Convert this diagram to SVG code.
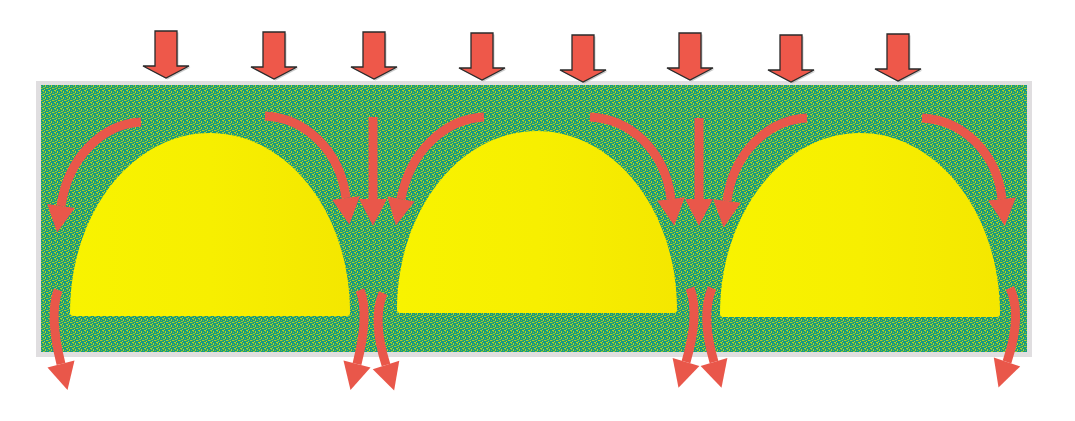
<svg xmlns="http://www.w3.org/2000/svg" width="1075" height="421" viewBox="0 0 1075 421">
<style>
.blk{fill:#ee584a;stroke:#2a2a2a;stroke-width:1.3;stroke-linejoin:miter}
.shd{fill:#8a8a8a;opacity:0.45}
.flow{fill:none;stroke:#e9574a;stroke-width:9;stroke-linecap:butt;marker-end:url(#head)}
.dome{fill:url(#yel)}
</style>
<defs>
<pattern id="tex" width="6" height="6" patternUnits="userSpaceOnUse">
<rect width="6" height="6" fill="#179a80"/>
<rect x="0" y="0" width="2" height="1" fill="#b0d21e"/>
<rect x="1" y="1" width="1" height="1" fill="#8cc232"/>
<rect x="3" y="1" width="1" height="2" fill="#bcd61a"/>
<rect x="1" y="3" width="2" height="1" fill="#9ac82a"/>
<rect x="4" y="4" width="2" height="1" fill="#b0d21e"/>
<rect x="2" y="5" width="1" height="1" fill="#c4da18"/>
<rect x="5" y="2" width="1" height="1" fill="#7cba3c"/>
<rect x="0" y="4" width="1" height="1" fill="#6fb447"/>
</pattern>
<linearGradient id="yel" x1="0" y1="0" x2="1" y2="0">
<stop offset="0" stop-color="#f8f300"/>
<stop offset="0.5" stop-color="#f7ef00"/>
<stop offset="1" stop-color="#f4e700"/>
</linearGradient>
<marker id="head" markerUnits="userSpaceOnUse" markerWidth="30" markerHeight="30" viewBox="0 -14 26 28" refX="0" refY="0" orient="auto">
<path d="M0,-13 L25,0 L0,13 Z" fill="#e9574a"/>
</marker>
<path id="barrow" d="M-11,0 H11 V35 H23 L0,47 L-23,35 H-11 Z"/>
</defs>

<g id="panel">
<rect x="36" y="81" width="996" height="276" fill="#e0dee0"/>
<rect x="41" y="85" width="986" height="267" fill="url(#tex)"/>
</g>

<g id="dome1"><path class="dome" d="M70,313 Q70,316 73,316 L347,316 Q350,316 350,313 C350,212 287,133 210,133 C133,133 70,212 70,313 Z"/></g>
<g id="dome2"><path class="dome" d="M397,310 Q397,313 400,313 L674,313 Q677,313 677,310 C677,210 614,131 537,131 C460,131 397,210 397,310 Z"/></g>
<g id="dome3"><path class="dome" d="M720,314 Q720,317 723,317 L997,317 Q1000,317 1000,314 C1000,213 937,133 860,133 C783,133 720,213 720,314 Z"/></g>

<g id="arrow-in-1"><use href="#barrow" class="shd" transform="translate(167.5,32.5)"/><use href="#barrow" class="blk" transform="translate(166,31)"/></g>
<g id="arrow-in-2"><use href="#barrow" class="shd" transform="translate(275.5,33.5)"/><use href="#barrow" class="blk" transform="translate(274,32)"/></g>
<g id="arrow-in-3"><use href="#barrow" class="shd" transform="translate(375.5,33.5)"/><use href="#barrow" class="blk" transform="translate(374,32)"/></g>
<g id="arrow-in-4"><use href="#barrow" class="shd" transform="translate(483.5,34.5)"/><use href="#barrow" class="blk" transform="translate(482,33)"/></g>
<g id="arrow-in-5"><use href="#barrow" class="shd" transform="translate(584.5,36.5)"/><use href="#barrow" class="blk" transform="translate(583,35)"/></g>
<g id="arrow-in-6"><use href="#barrow" class="shd" transform="translate(691.5,34.5)"/><use href="#barrow" class="blk" transform="translate(690,33)"/></g>
<g id="arrow-in-7"><use href="#barrow" class="shd" transform="translate(792.5,36.5)"/><use href="#barrow" class="blk" transform="translate(791,35)"/></g>
<g id="arrow-in-8"><use href="#barrow" class="shd" transform="translate(899.5,35.5)"/><use href="#barrow" class="blk" transform="translate(898,34)"/></g>

<g id="connectors">
<path class="flow" d="M141,122 C102,124 68,158 61,206"/>
<path class="flow" d="M265,116 C305,118 340,150 346,198"/>
<path class="flow" d="M373,117 L373,199"/>
<path class="flow" d="M484,117 C444,119 410,152 401,199"/>
<path class="flow" d="M590,117 C630,119 665,150 671,199"/>
<path class="flow" d="M699,118 L699,199"/>
<path class="flow" d="M807,118 C767,120 733,154 727,201"/>
<path class="flow" d="M922,118 C962,120 997,152 1002,199"/>
<path class="flow" d="M58,290 C51,310 55,340 61,364"/>
<path class="flow" d="M360,290 C368,310 363,340 357,364"/>
<path class="flow" d="M383,293 C374,315 379,343 386,365"/>
<path class="flow" d="M690,288 C698,310 693,338 686,362"/>
<path class="flow" d="M712,288 C703,310 707,338 714,362"/>
<path class="flow" d="M1010,288 C1020,310 1015,338 1007,362"/>
</g>
</svg>
